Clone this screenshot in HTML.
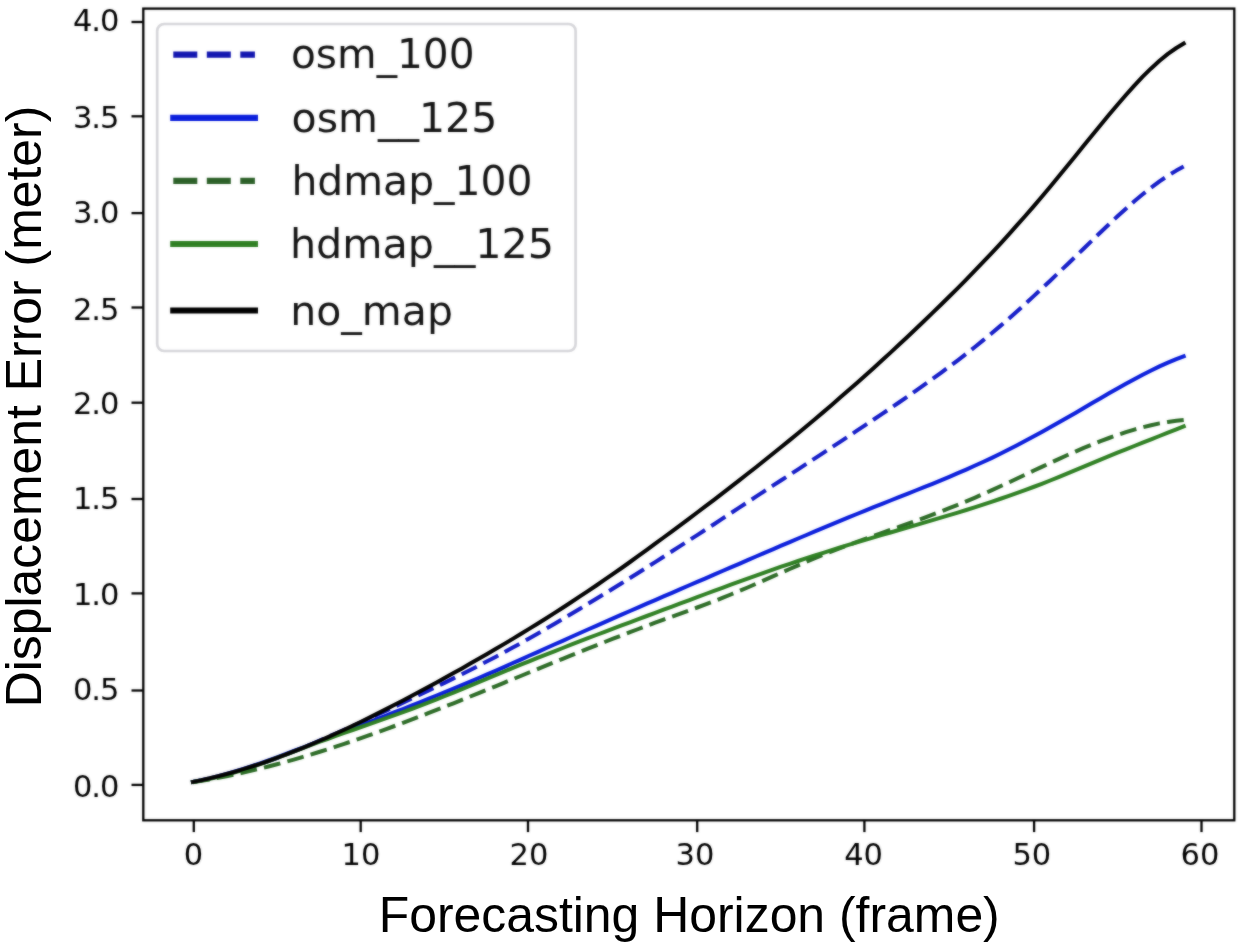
<!DOCTYPE html>
<html lang="en">
<head>
<meta charset="utf-8">
<title>Displacement Error vs Forecasting Horizon</title>
<style>
html,body{margin:0;padding:0;background:#fff;}
body{width:1240px;height:942px;overflow:hidden;}
svg{display:block;}
.tk{font-family:"DejaVu Sans","Liberation Sans",sans-serif;font-size:30.5px;fill:#000000;}
.ty{letter-spacing:-1px;}
.lg{font-family:"DejaVu Sans","Liberation Sans",sans-serif;fill:#141414;}
.xl{font-family:"Liberation Sans",Arial,Helvetica,sans-serif;font-size:49.9px;fill:#000;}
.yl{font-family:"Liberation Sans",Arial,Helvetica,sans-serif;font-size:49.9px;fill:#000;}
</style>
</head>
<body>
<svg width="1240" height="942" viewBox="0 0 1240 942">
<rect x="0" y="0" width="1240" height="942" fill="#ffffff"/>
<filter id="soft" x="-2%" y="-2%" width="104%" height="104%" color-interpolation-filters="sRGB"><feGaussianBlur in="SourceGraphic" stdDeviation="1" result="b"/><feComposite in="SourceGraphic" in2="b" operator="arithmetic" k1="0" k2="0.5" k3="0.5" k4="0"/></filter>
<g filter="url(#soft)">
<clipPath id="axclip"><rect x="143.3" y="8.6" width="1091.0" height="811.7"/></clipPath>
<g clip-path="url(#axclip)"><path d="M192.9,781.9 L201.3,780.4 L209.7,778.6 L218.1,776.7 L226.5,774.5 L234.9,772.2 L243.3,769.6 L251.7,767.0 L260.1,764.1 L268.5,761.1 L276.9,758.0 L285.4,754.8 L293.8,751.4 L302.2,748.0 L310.6,744.5 L319.0,740.9 L327.4,737.2 L335.8,733.5 L344.2,729.8 L352.6,726.0 L361.0,722.2 L369.4,718.4 L377.8,714.5 L386.2,710.7 L394.6,706.8 L403.0,702.8 L411.4,698.8 L419.8,694.8 L428.2,690.8 L436.6,686.7 L445.0,682.6 L453.5,678.4 L461.9,674.2 L470.3,670.0 L478.7,665.7 L487.1,661.3 L495.5,656.9 L503.9,652.4 L512.3,647.8 L520.7,643.2 L529.1,638.4 L537.5,633.7 L545.9,628.8 L554.3,624.0 L562.7,619.0 L571.1,614.0 L579.5,609.0 L587.9,603.9 L596.3,598.8 L604.7,593.7 L613.1,588.5 L621.6,583.3 L630.0,578.0 L638.4,572.7 L646.8,567.4 L655.2,562.1 L663.6,556.7 L672.0,551.3 L680.4,545.9 L688.8,540.5 L697.2,535.1 L705.6,529.6 L714.0,524.2 L722.4,518.7 L730.8,513.2 L739.2,507.7 L747.6,502.2 L756.0,496.7 L764.4,491.2 L772.8,485.7 L781.2,480.3 L789.7,474.8 L798.1,469.3 L806.5,463.8 L814.9,458.3 L823.3,452.8 L831.7,447.3 L840.1,441.8 L848.5,436.3 L856.9,430.7 L865.3,425.1 L873.7,419.5 L882.1,413.9 L890.5,408.2 L898.9,402.5 L907.3,396.7 L915.7,390.8 L924.1,384.9 L932.5,378.9 L940.9,372.8 L949.3,366.6 L957.8,360.3 L966.2,353.8 L974.6,347.2 L983.0,340.4 L991.4,333.5 L999.8,326.4 L1008.2,319.2 L1016.6,311.7 L1025.0,304.1 L1033.4,296.4 L1041.8,288.6 L1050.2,280.7 L1058.6,272.7 L1067.0,264.7 L1075.4,256.6 L1083.8,248.5 L1092.2,240.3 L1100.6,232.2 L1109.0,224.2 L1117.5,216.3 L1125.9,208.7 L1134.3,201.3 L1142.7,194.3 L1151.1,187.6 L1159.5,181.4 L1167.9,175.7 L1176.3,170.6 L1183.7,166.6" fill="none" stroke="#141cc8" stroke-width="4.0" stroke-linejoin="round" stroke-dasharray="16.9,7.3" stroke-linecap="butt"/>
<path d="M192.9,781.9 L201.3,780.3 L209.7,778.4 L218.1,776.3 L226.5,774.0 L234.9,771.5 L243.3,768.9 L251.7,766.2 L260.1,763.3 L268.5,760.3 L276.9,757.3 L285.4,754.1 L293.8,751.0 L302.2,747.8 L310.6,744.5 L319.0,741.3 L327.4,738.1 L335.8,734.9 L344.2,731.7 L352.6,728.5 L361.0,725.2 L369.4,722.0 L377.8,718.8 L386.2,715.5 L394.6,712.2 L403.0,709.0 L411.4,705.6 L419.8,702.3 L428.2,698.9 L436.6,695.5 L445.0,692.1 L453.5,688.7 L461.9,685.2 L470.3,681.6 L478.7,678.0 L487.1,674.4 L495.5,670.8 L503.9,667.1 L512.3,663.3 L520.7,659.6 L529.1,655.8 L537.5,652.1 L545.9,648.3 L554.3,644.5 L562.7,640.8 L571.1,637.0 L579.5,633.2 L587.9,629.5 L596.3,625.8 L604.7,622.1 L613.1,618.4 L621.6,614.7 L630.0,611.0 L638.4,607.4 L646.8,603.7 L655.2,600.1 L663.6,596.4 L672.0,592.8 L680.4,589.2 L688.8,585.5 L697.2,581.9 L705.6,578.3 L714.0,574.7 L722.4,571.0 L730.8,567.4 L739.2,563.8 L747.6,560.2 L756.0,556.5 L764.4,552.9 L772.8,549.3 L781.2,545.7 L789.7,542.1 L798.1,538.5 L806.5,535.0 L814.9,531.4 L823.3,527.9 L831.7,524.4 L840.1,520.9 L848.5,517.4 L856.9,514.0 L865.3,510.6 L873.7,507.2 L882.1,503.9 L890.5,500.5 L898.9,497.2 L907.3,493.9 L915.7,490.5 L924.1,487.2 L932.5,483.8 L940.9,480.3 L949.3,476.8 L957.8,473.2 L966.2,469.6 L974.6,465.8 L983.0,462.0 L991.4,458.1 L999.8,454.0 L1008.2,449.8 L1016.6,445.5 L1025.0,441.1 L1033.4,436.6 L1041.8,432.0 L1050.2,427.3 L1058.6,422.6 L1067.0,417.7 L1075.4,412.9 L1083.8,408.0 L1092.2,403.1 L1100.6,398.2 L1109.0,393.3 L1117.5,388.5 L1125.9,383.8 L1134.3,379.2 L1142.7,374.7 L1151.1,370.5 L1159.5,366.4 L1167.9,362.7 L1176.3,359.1 L1183.7,356.3" fill="none" stroke="#0a1edc" stroke-width="4.0" stroke-linejoin="round" stroke-linecap="square"/>
<path d="M192.9,782.3 L201.3,780.9 L209.7,779.4 L218.1,777.9 L226.5,776.2 L234.9,774.5 L243.3,772.6 L251.7,770.6 L260.1,768.6 L268.5,766.5 L276.9,764.3 L285.4,762.0 L293.8,759.6 L302.2,757.1 L310.6,754.6 L319.0,752.0 L327.4,749.4 L335.8,746.6 L344.2,743.9 L352.6,741.0 L361.0,738.1 L369.4,735.2 L377.8,732.1 L386.2,729.1 L394.6,726.0 L403.0,722.8 L411.4,719.7 L419.8,716.4 L428.2,713.2 L436.6,709.9 L445.0,706.6 L453.5,703.3 L461.9,699.9 L470.3,696.5 L478.7,693.1 L487.1,689.7 L495.5,686.3 L503.9,682.8 L512.3,679.4 L520.7,676.0 L529.1,672.5 L537.5,669.1 L545.9,665.6 L554.3,662.2 L562.7,658.8 L571.1,655.4 L579.5,652.0 L587.9,648.6 L596.3,645.3 L604.7,642.0 L613.1,638.7 L621.6,635.4 L630.0,632.2 L638.4,629.0 L646.8,625.8 L655.2,622.7 L663.6,619.6 L672.0,616.6 L680.4,613.6 L688.8,610.5 L697.2,607.5 L705.6,604.3 L714.0,601.2 L722.4,597.9 L730.8,594.5 L739.2,591.0 L747.6,587.5 L756.0,583.8 L764.4,580.1 L772.8,576.4 L781.2,572.7 L789.7,569.0 L798.1,565.3 L806.5,561.7 L814.9,558.2 L823.3,554.7 L831.7,551.4 L840.1,548.1 L848.5,545.0 L856.9,541.9 L865.3,538.8 L873.7,535.8 L882.1,532.8 L890.5,529.9 L898.9,526.9 L907.3,523.9 L915.7,520.9 L924.1,517.8 L932.5,514.7 L940.9,511.5 L949.3,508.2 L957.8,504.8 L966.2,501.3 L974.6,497.8 L983.0,494.1 L991.4,490.4 L999.8,486.5 L1008.2,482.7 L1016.6,478.7 L1025.0,474.8 L1033.4,470.8 L1041.8,466.9 L1050.2,462.9 L1058.6,459.1 L1067.0,455.3 L1075.4,451.6 L1083.8,447.9 L1092.2,444.5 L1100.6,441.1 L1109.0,438.0 L1117.5,435.0 L1125.9,432.2 L1134.3,429.6 L1142.7,427.3 L1151.1,425.2 L1159.5,423.4 L1167.9,422.0 L1176.3,420.8 L1183.7,420.0" fill="none" stroke="#2d6c27" stroke-width="4.0" stroke-linejoin="round" stroke-dasharray="16.9,7.3" stroke-linecap="butt"/>
<path d="M192.9,781.9 L201.3,780.6 L209.7,778.9 L218.1,777.0 L226.5,774.8 L234.9,772.4 L243.3,769.8 L251.7,767.0 L260.1,764.1 L268.5,761.1 L276.9,757.9 L285.4,754.8 L293.8,751.6 L302.2,748.3 L310.6,745.2 L319.0,742.0 L327.4,739.0 L335.8,735.9 L344.2,732.9 L352.6,730.0 L361.0,727.0 L369.4,724.1 L377.8,721.1 L386.2,718.2 L394.6,715.2 L403.0,712.1 L411.4,709.0 L419.8,705.9 L428.2,702.6 L436.6,699.3 L445.0,696.0 L453.5,692.6 L461.9,689.1 L470.3,685.7 L478.7,682.2 L487.1,678.7 L495.5,675.2 L503.9,671.7 L512.3,668.2 L520.7,664.7 L529.1,661.3 L537.5,657.9 L545.9,654.6 L554.3,651.3 L562.7,648.0 L571.1,644.7 L579.5,641.4 L587.9,638.2 L596.3,635.0 L604.7,631.8 L613.1,628.6 L621.6,625.4 L630.0,622.3 L638.4,619.1 L646.8,616.0 L655.2,612.9 L663.6,609.7 L672.0,606.6 L680.4,603.4 L688.8,600.3 L697.2,597.2 L705.6,594.0 L714.0,590.9 L722.4,587.8 L730.8,584.7 L739.2,581.7 L747.6,578.6 L756.0,575.6 L764.4,572.6 L772.8,569.7 L781.2,566.7 L789.7,563.9 L798.1,561.0 L806.5,558.2 L814.9,555.5 L823.3,552.8 L831.7,550.1 L840.1,547.5 L848.5,544.9 L856.9,542.4 L865.3,539.9 L873.7,537.4 L882.1,534.9 L890.5,532.5 L898.9,530.0 L907.3,527.6 L915.7,525.1 L924.1,522.7 L932.5,520.2 L940.9,517.7 L949.3,515.2 L957.8,512.6 L966.2,510.0 L974.6,507.3 L983.0,504.6 L991.4,501.9 L999.8,499.0 L1008.2,496.1 L1016.6,493.2 L1025.0,490.1 L1033.4,487.0 L1041.8,483.8 L1050.2,480.5 L1058.6,477.1 L1067.0,473.7 L1075.4,470.2 L1083.8,466.6 L1092.2,463.1 L1100.6,459.6 L1109.0,456.2 L1117.5,452.7 L1125.9,449.4 L1134.3,446.0 L1142.7,442.7 L1151.1,439.3 L1159.5,436.0 L1167.9,432.6 L1176.3,429.3 L1183.7,426.3" fill="none" stroke="#2f8023" stroke-width="4.0" stroke-linejoin="round" stroke-linecap="square"/>
<path d="M192.9,781.9 L201.3,780.2 L209.7,778.3 L218.1,776.2 L226.5,774.0 L234.9,771.7 L243.3,769.2 L251.7,766.5 L260.1,763.8 L268.5,760.9 L276.9,757.8 L285.4,754.7 L293.8,751.4 L302.2,748.1 L310.6,744.6 L319.0,741.0 L327.4,737.3 L335.8,733.5 L344.2,729.7 L352.6,725.7 L361.0,721.7 L369.4,717.6 L377.8,713.4 L386.2,709.1 L394.6,704.8 L403.0,700.4 L411.4,696.0 L419.8,691.5 L428.2,686.9 L436.6,682.4 L445.0,677.7 L453.5,673.1 L461.9,668.4 L470.3,663.6 L478.7,658.8 L487.1,654.0 L495.5,649.1 L503.9,644.1 L512.3,639.1 L520.7,634.0 L529.1,628.9 L537.5,623.7 L545.9,618.5 L554.3,613.1 L562.7,607.7 L571.1,602.3 L579.5,596.7 L587.9,591.1 L596.3,585.5 L604.7,579.7 L613.1,573.9 L621.6,568.0 L630.0,562.0 L638.4,555.9 L646.8,549.8 L655.2,543.7 L663.6,537.5 L672.0,531.3 L680.4,525.1 L688.8,518.8 L697.2,512.5 L705.6,506.2 L714.0,499.8 L722.4,493.4 L730.8,486.9 L739.2,480.4 L747.6,473.8 L756.0,467.2 L764.4,460.5 L772.8,453.8 L781.2,447.0 L789.7,440.1 L798.1,433.2 L806.5,426.2 L814.9,419.2 L823.3,412.1 L831.7,404.9 L840.1,397.6 L848.5,390.3 L856.9,382.9 L865.3,375.4 L873.7,367.9 L882.1,360.3 L890.5,352.6 L898.9,344.8 L907.3,337.0 L915.7,329.0 L924.1,321.0 L932.5,312.9 L940.9,304.7 L949.3,296.5 L957.8,288.1 L966.2,279.6 L974.6,270.9 L983.0,262.2 L991.4,253.3 L999.8,244.3 L1008.2,235.1 L1016.6,225.7 L1025.0,216.2 L1033.4,206.6 L1041.8,196.7 L1050.2,186.7 L1058.6,176.5 L1067.0,166.2 L1075.4,155.9 L1083.8,145.5 L1092.2,135.2 L1100.6,124.9 L1109.0,114.7 L1117.5,104.7 L1125.9,95.0 L1134.3,85.6 L1142.7,76.7 L1151.1,68.4 L1159.5,60.8 L1167.9,53.9 L1176.3,48.0 L1183.7,43.5" fill="none" stroke="#000000" stroke-width="4.0" stroke-linejoin="round" stroke-linecap="square"/></g>
<line x1="193.8" y1="820.3" x2="193.8" y2="832.1" stroke="#000" stroke-width="2.3"/>
<text x="193.5" y="865.1" text-anchor="middle" class="tk">0</text>
<line x1="360.7" y1="820.3" x2="360.7" y2="832.1" stroke="#000" stroke-width="2.3"/>
<text x="361.0" y="865.1" text-anchor="middle" class="tk">10</text>
<line x1="528.0" y1="820.3" x2="528.0" y2="832.1" stroke="#000" stroke-width="2.3"/>
<text x="529.0" y="865.1" text-anchor="middle" class="tk">20</text>
<line x1="697.2" y1="820.3" x2="697.2" y2="832.1" stroke="#000" stroke-width="2.3"/>
<text x="695.0" y="865.1" text-anchor="middle" class="tk">30</text>
<line x1="864.4" y1="820.3" x2="864.4" y2="832.1" stroke="#000" stroke-width="2.3"/>
<text x="863.6" y="865.1" text-anchor="middle" class="tk">40</text>
<line x1="1034.1" y1="820.3" x2="1034.1" y2="832.1" stroke="#000" stroke-width="2.3"/>
<text x="1031.8" y="865.1" text-anchor="middle" class="tk">50</text>
<line x1="1201.5" y1="820.3" x2="1201.5" y2="832.1" stroke="#000" stroke-width="2.3"/>
<text x="1200.0" y="865.1" text-anchor="middle" class="tk">60</text>
<line x1="131.5" y1="784.9" x2="143.3" y2="784.9" stroke="#000" stroke-width="2.3"/>
<text x="118.4" y="797.2" text-anchor="end" class="tk ty">0.0</text>
<line x1="131.5" y1="690.5" x2="143.3" y2="690.5" stroke="#000" stroke-width="2.3"/>
<text x="118.4" y="700.1" text-anchor="end" class="tk ty">0.5</text>
<line x1="131.5" y1="593.4" x2="143.3" y2="593.4" stroke="#000" stroke-width="2.3"/>
<text x="118.4" y="605.3" text-anchor="end" class="tk ty">1.0</text>
<line x1="131.5" y1="499.0" x2="143.3" y2="499.0" stroke="#000" stroke-width="2.3"/>
<text x="118.4" y="509.1" text-anchor="end" class="tk ty">1.5</text>
<line x1="131.5" y1="402.7" x2="143.3" y2="402.7" stroke="#000" stroke-width="2.3"/>
<text x="118.4" y="414.3" text-anchor="end" class="tk ty">2.0</text>
<line x1="131.5" y1="307.5" x2="143.3" y2="307.5" stroke="#000" stroke-width="2.3"/>
<text x="118.4" y="319.6" text-anchor="end" class="tk ty">2.5</text>
<line x1="131.5" y1="213.1" x2="143.3" y2="213.1" stroke="#000" stroke-width="2.3"/>
<text x="118.4" y="222.9" text-anchor="end" class="tk ty">3.0</text>
<line x1="131.5" y1="116.3" x2="143.3" y2="116.3" stroke="#000" stroke-width="2.3"/>
<text x="118.4" y="128.3" text-anchor="end" class="tk ty">3.5</text>
<line x1="131.5" y1="22.0" x2="143.3" y2="22.0" stroke="#000" stroke-width="2.3"/>
<text x="118.4" y="30.9" text-anchor="end" class="tk ty">4.0</text>
<rect x="143.3" y="8.6" width="1091.0" height="811.7" fill="none" stroke="#000" stroke-width="2.3"/>
<rect x="157.2" y="24.0" width="418.4" height="327.0" rx="7" ry="7" fill="#ffffff" fill-opacity="0.8" stroke="#d2d2d6" stroke-opacity="0.9" stroke-width="2.7"/>
<line x1="173.3" y1="54.7" x2="254.9" y2="54.7" stroke="#1216b0" stroke-width="6.2" stroke-dasharray="24.0,9.5"/>
<text x="291.0" y="68.4" class="lg" font-size="40.65">osm_100</text>
<line x1="173.3" y1="117.9" x2="254.9" y2="117.9" stroke="#0a1edc" stroke-width="6.2" stroke-linecap="square"/>
<text x="291.6" y="132.4" class="lg" font-size="41.0">osm__125</text>
<line x1="173.3" y1="180.9" x2="254.9" y2="180.9" stroke="#2c6028" stroke-width="6.2" stroke-dasharray="24.0,9.5"/>
<text x="291.4" y="194.7" class="lg" font-size="40.9">hdmap_100</text>
<line x1="173.3" y1="244.0" x2="254.9" y2="244.0" stroke="#2f8023" stroke-width="6.2" stroke-linecap="square"/>
<text x="289.9" y="257.9" class="lg" font-size="41.3">hdmap__125</text>
<line x1="173.3" y1="310.5" x2="254.9" y2="310.5" stroke="#000000" stroke-width="6.2" stroke-linecap="square"/>
<text x="290.3" y="324.6" class="lg" font-size="41.0">no_map</text>
</g>
<text x="378.7" y="931.8" class="xl">Forecasting Horizon (frame)</text>
<text transform="translate(41.1,707.3) rotate(-90)" class="yl">Displacement Error (meter)</text>
</svg>
</body>
</html>
